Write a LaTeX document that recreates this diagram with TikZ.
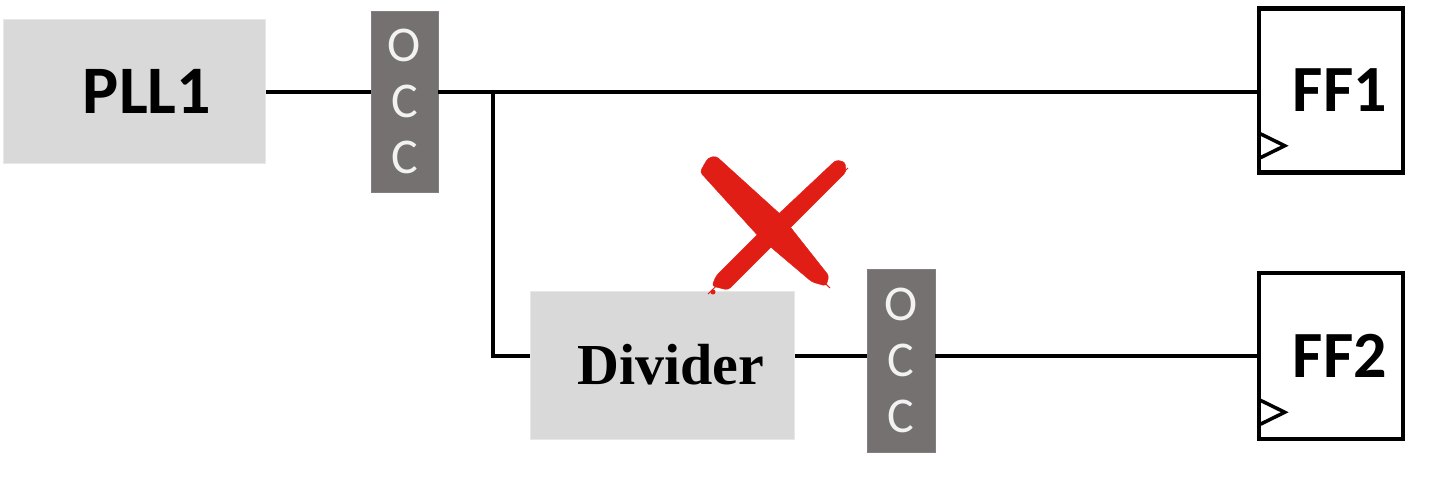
\documentclass[tikz,border=0pt]{standalone}
\usepackage{fontspec}
\setmainfont{Liberation Serif}
\newfontfamily\calibri{Carlito}
\definecolor{blockgray}{RGB}{217,217,217}
\definecolor{occgray}{RGB}{118,113,113}
\definecolor{crossred}{RGB}{224,30,22}
\tikzset{
  block/.style={fill=blockgray, draw=blockgray!60!white, line width=1pt, inner sep=0pt},
  occ/.style={fill=occgray, draw=occgray!90!white, inner sep=0pt, align=center,
    text=white!95!black, font=\calibri\fontsize{50}{56}\selectfont},
  ff/.style={draw=black, line width=4.5pt, fill=white, inner sep=0pt,
    font=\calibri\bfseries\fontsize{66}{66}\selectfont},
  wire/.style={line width=4.8pt},
  clk/.style={line width=3.5pt, line join=miter},
  cross/.style={fill=crossred, draw=crossred, line join=round}
}
\begin{document}
\begin{tikzpicture}[x=1pt, y=-1pt]
    \useasboundingbox (0,0) rectangle (1440,479);
    % blocks
    \node[block, minimum width=262pt, minimum height=144pt, font=\calibri\bfseries\fontsize{68}{68}\selectfont] (pll) at (134,91) {\hspace{26pt}PLL1};
    \node[occ, minimum width=67pt, minimum height=181pt] (occ1) at (404.5,101.5) {O\\C\\C};
    \node[block, minimum width=264pt, minimum height=148pt, font=\bfseries\fontsize{58}{58}\selectfont] (div) at (662,365) {\hspace{18pt}Divider};
    \node[occ, minimum width=68pt, minimum height=183pt] (occ2) at (901,360.5) {O\\C\\C};
    \node[ff, minimum width=144pt, minimum height=164pt] (ff1) at (1331,90.5) {\hspace{18pt}FF1};
    \node[ff, minimum width=144pt, minimum height=166pt] (ff2) at (1331,356) {\hspace{18pt}FF2};
    % clock inputs
    \foreach \f in {ff1,ff2}
      \draw[clk] ([xshift=1.5pt,yshift=42pt]\f.south west) -- ([xshift=28pt,yshift=29pt]\f.south west) -- ([xshift=1.5pt,yshift=16pt]\f.south west);
    % wires
    \coordinate (split) at (493,92);
    \draw[wire] ([yshift=-1pt]pll.east) -- ([yshift=-1pt]pll.east -| occ1.west);
    \draw[wire] (occ1.east |- split) -- (ff1.west |- split);
    \draw[wire] (split) |- (div.west |- ff2.west);
    \draw[wire] (div.east |- ff2.west) -- (occ2.west |- ff2.west);
    \draw[wire] (occ2.east |- ff2.west) -- (ff2.west);
    % red cross
    \filldraw[cross, rounded corners=3pt] (708,158) -- (716,156) -- (780,214) -- (829,276) -- (826,286) -- (812,282) -- (760,238) -- (700,172) -- cycle;
    \filldraw[cross, rounded corners=3pt] (836,160) -- (845,162) -- (846,172) -- (786,232) -- (728,290) -- (712,286) -- (716,276) -- (770,222) -- cycle;
    \draw[crossred, line width=1pt] (704,164) -- (758,222);
    \draw[crossred, line width=1pt] (790,250) -- (830,288);
    \draw[crossred, line width=1pt] (848,168) -- (820,196);
    \draw[crossred, line width=1pt] (735,268) -- (708,294);
    \fill[crossred] (713,292) circle (2.5pt);
\end{tikzpicture}
\end{document}
